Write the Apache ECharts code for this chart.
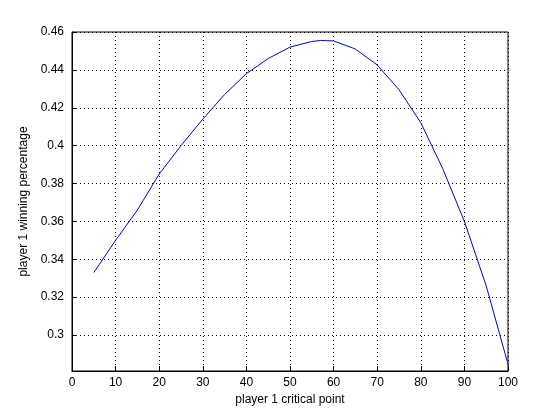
<!DOCTYPE html>
<html>
<head>
<meta charset="utf-8">
<script src="https://cdn.jsdelivr.net/npm/echarts@6/dist/echarts.min.js"></script>
<style>html,body{margin:0;padding:0;background:#fff;}</style>
</head>
<body>
<div id="main" style="width:560px;height:420px;"></div>
<script>
    // critical point vs winning percentage
    var critPoints = [5, 10, 15, 20, 25, 30, 35, 40, 45, 50, 55, 57, 60, 65, 70, 75, 80, 85, 90, 95, 100];
    var winPct = [0.333, 0.350, 0.366, 0.385, 0.400, 0.414, 0.427, 0.438, 0.446, 0.452, 0.455, 0.4555, 0.4553, 0.451, 0.4426, 0.4295, 0.4121, 0.388, 0.360, 0.326, 0.2846];
    var xTicks = [0, 10, 20, 30, 40, 50, 60, 70, 80, 90, 100];

    var axisText = {color: '#000', fontSize: 12, fontFamily: 'Liberation Sans'};
    var dotted = {show: true, lineStyle: {color: '#000', type: [1, 3], width: 1}};

    var chart = echarts.init(document.getElementById('main'));
    chart.setOption({
        animation: false,
        backgroundColor: '#fff',
        grid: {left: 72, right: 52, top: 32, bottom: 49, show: true, borderColor: '#000', borderWidth: 1},
        xAxis: {
            type: 'value', min: 0, max: 100, interval: 10,
            name: 'player 1 critical point', nameLocation: 'middle', nameGap: 20,
            nameTextStyle: axisText,
            axisLine: {lineStyle: {color: '#000'}},
            axisTick: {inside: true, length: 5, lineStyle: {color: '#000'}},
            axisLabel: Object.assign({margin: 6, formatter: function (v) { return xTicks.indexOf(v) >= 0 ? v : ''; }}, axisText),
            splitLine: dotted
        },
        yAxis: {
            type: 'value', min: 0.281, max: 0.46,
            name: 'player 1 winning percentage', nameLocation: 'middle', nameGap: 38,
            nameTextStyle: axisText,
            axisLine: {lineStyle: {color: '#000'}},
            axisTick: {inside: true, length: 5, lineStyle: {color: '#000'}, customValues: [0.30, 0.32, 0.34, 0.36, 0.38, 0.40, 0.42, 0.44, 0.46]},
            axisLabel: Object.assign({margin: 8, customValues: [0.30, 0.32, 0.34, 0.36, 0.38, 0.40, 0.42, 0.44, 0.46],
                formatter: function (v) { return String(+v.toFixed(2)); }}, axisText),
            splitLine: Object.assign({}, dotted),
            interval: 0.02
        },
        series: [{
            type: 'line',
            data: critPoints.map(function (x, i) { return [x, winPct[i]]; }),
            showSymbol: false,
            smooth: false,
            lineStyle: {color: '#0000e0', width: 1}
        }]
    });
</script>
</body>
</html>
